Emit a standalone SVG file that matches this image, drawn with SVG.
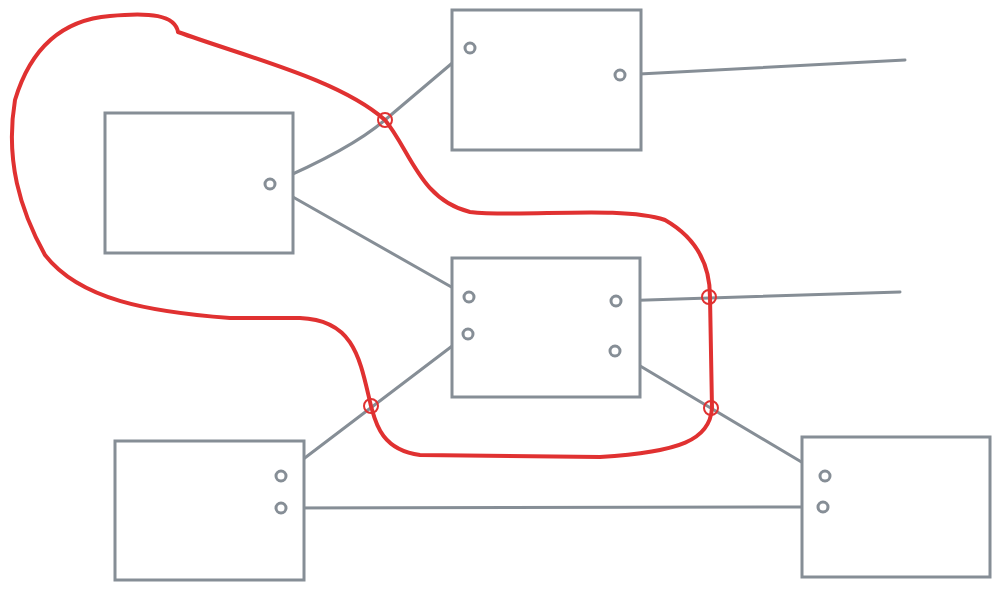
<svg xmlns="http://www.w3.org/2000/svg" width="1000" height="591" viewBox="0 0 1000 591">
<style>
.box{fill:#fff;stroke:#868e96;stroke-width:3}
.ln{fill:none;stroke:#868e96;stroke-width:3;stroke-linecap:round}
.port{fill:#fff;stroke:#868e96;stroke-width:3}
.red{fill:none;stroke:#e03131;stroke-width:4;stroke-linecap:round;stroke-linejoin:round}
.x{fill:none;stroke:#e03131;stroke-width:2}
</style>
<rect width="1000" height="591" fill="#fff"/>
<g id="connectors">
<path class="ln" d="M620,75 L905,60"/>
<path class="ln" d="M616,301 L900,292"/>
<path class="ln" d="M270,184 Q350,150 385,120 L470,48"/>
<path class="ln" d="M270,184 L469,297"/>
<path class="ln" d="M468,334 L281,476"/>
<path class="ln" d="M615,351 L825,476"/>
<path class="ln" d="M281,508 L823,507"/>
</g>
<g id="nodeA"><rect class="box" x="105" y="113" width="188" height="140"/><circle class="port" cx="270" cy="184" r="5"/></g>
<g id="nodeB"><rect class="box" x="452" y="10" width="189" height="140"/><circle class="port" cx="470" cy="48" r="5"/><circle class="port" cx="620" cy="75" r="5"/></g>
<g id="nodeC"><rect class="box" x="452" y="258" width="188" height="139"/><circle class="port" cx="469" cy="297" r="5"/><circle class="port" cx="468" cy="334" r="5"/><circle class="port" cx="616" cy="301" r="5"/><circle class="port" cx="615" cy="351" r="5"/></g>
<g id="nodeD"><rect class="box" x="115" y="441" width="189" height="139"/><circle class="port" cx="281" cy="476" r="5"/><circle class="port" cx="281" cy="508" r="5"/></g>
<g id="nodeE"><rect class="box" x="802" y="437" width="188" height="140"/><circle class="port" cx="825" cy="476" r="5"/><circle class="port" cx="823" cy="507" r="5"/></g>
<g id="loop">
<path class="red" d="M178,32 C250,58 340,80 385,120 C410,150 420,200 470,212 C520,218 620,205 665,220 C700,240 710,270 710,297 L712,408 C710,440 680,452 600,457 L420,455 C380,450 375,420 371,406 C360,360 355,320 300,318 L230,318 C150,312 80,300 45,255 C20,210 5,160 15,100 C30,50 60,20 110,16 C150,12 175,15 178,32"/>
<circle class="x" cx="385" cy="120" r="7"/>
<circle class="x" cx="709" cy="297" r="7"/>
<circle class="x" cx="711" cy="408" r="7"/>
<circle class="x" cx="371" cy="406" r="7"/>
</g>
</svg>
